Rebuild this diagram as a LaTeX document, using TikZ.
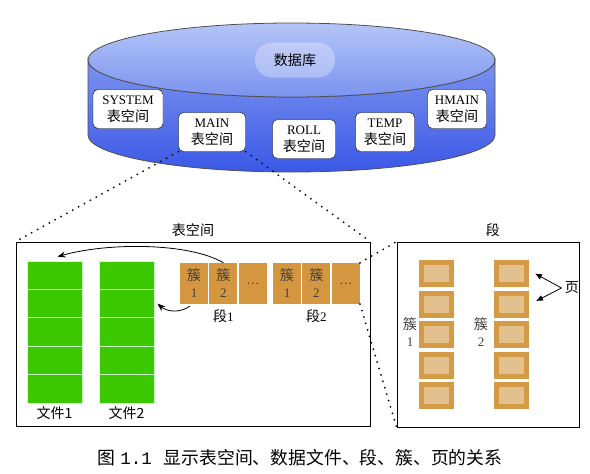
\documentclass[tikz,border=0pt]{standalone}
\usepackage{fontspec}
\setmainfont{Liberation Serif}
\setmonofont{Liberation Mono}
\newfontfamily\cjk[Scale=1.08]{Noto Sans CJK SC}
\usepackage{tikz}
\usetikzlibrary{arrows.meta,positioning,calc}
\definecolor{dbtop}{HTML}{B4C5F7}
\definecolor{dbmid}{HTML}{7C93EF}
\definecolor{dbbot}{HTML}{3A58E6}
\definecolor{rim}{HTML}{505050}
\definecolor{filegreen}{HTML}{3CC800}
\definecolor{cluster}{HTML}{D4973F}
\definecolor{pageout}{HTML}{D49A46}
\definecolor{pagein}{HTML}{E3C18F}

\tikzset{
  tsbox/.style={draw,fill=white,rounded corners=5pt,align=center,minimum height=39pt,inner sep=2pt},
  fileblk/.style={fill=filegreen,draw=green!20!white,line width=0.8pt,minimum width=55pt,minimum height=28.4pt,inner sep=0pt},
  clublk/.style={fill=cluster,text=black!75,align=center,minimum width=28pt,minimum height=41pt,inner sep=0pt},
  pageblk/.style={fill=pagein,draw=pageout,line width=5pt,minimum width=30pt,minimum height=22pt,inner sep=0pt},
  linkdots/.style={line width=2pt,line cap=round,dash pattern=on 0pt off 6.7pt},
}

\begin{document}
\begin{tikzpicture}[x=1pt,y=-1pt,every node/.style={font=\fontsize{13}{17}\selectfont}]
  \useasboundingbox (0,0) rectangle (590,474);

  % Database cylinder
  \shade[top color=dbmid,bottom color=dbbot,draw=rim,line width=0.8pt]
    (88,60) -- (88,135) arc[start angle=180,end angle=0,x radius=203.5,y radius=37]
    -- (495,60) arc[start angle=0,end angle=180,x radius=203.5,y radius=37] -- cycle;
  \shade[top color=dbtop,bottom color=dbmid,draw=rim,line width=0.8pt]
    (291.5,60) ellipse[x radius=203.5,y radius=37];
  \node[fill=white,fill opacity=0.3,text opacity=1,rounded corners=17pt,minimum width=80pt,minimum height=35pt] (db) at (295,60) {\cjk 数据库};

  \node[tsbox,minimum width=70pt] (system) at (128,109) {SYSTEM\\{\cjk 表空间}};
  \node[tsbox,minimum width=67pt] (main) at (212,132) {MAIN\\{\cjk 表空间}};
  \node[tsbox,minimum width=63pt] (roll) at (304,139) {ROLL\\{\cjk 表空间}};
  \node[tsbox,minimum width=59pt] (temp) at (385,132) {TEMP\\{\cjk 表空间}};
  \node[tsbox,minimum width=59pt] (hmain) at (457,109) {HMAIN\\{\cjk 表空间}};

  % Tablespace
  \node[draw,line width=0.8pt,minimum width=354pt,minimum height=184pt,inner sep=0pt] (tsp) at (193,334) {};
  \node[above=1.5pt of tsp] (tsptitle) {\cjk 表空间};
  \draw[linkdots] (main.south west) -- (tsp.north west);
  \draw[linkdots] (main.south east) -- (tsp.north east);

  \foreach \i in {1,...,5} {
    \node[fileblk] (fa\i) at (54.5,{246.8+28.4*\i}) {};
    \node[fileblk] (fb\i) at (126.5,{246.8+28.4*\i}) {};
  }
  \node[below=0pt of fa5] (file1) {\cjk 文件1};
  \node[below=0pt of fb5] (file2) {\cjk 文件2};

  \node[clublk] (c11) at (194,283.5) {{\cjk 簇}\\1};
  \node[clublk,right=1pt of c11] (c12) {{\cjk 簇}\\2};
  \node[clublk,right=1pt of c12] (c13) {\ldots};
  \node[clublk] (c21) at (287,283.5) {{\cjk 簇}\\1};
  \node[clublk,right=1pt of c21] (c22) {{\cjk 簇}\\2};
  \node[clublk,right=1pt of c22] (c23) {\ldots};
  \node[below=2pt of c12] (seg1) {{\cjk 段}1};
  \node[below=2pt of c22] (seg2) {{\cjk 段}2};

  \coordinate (tipa) at ($(fa1.north)+(3,-4)$);
  \coordinate (tailb) at ($(c11.south)+(-4,2)$);
  \coordinate (tipb) at ($(fb2.east)+(3,0)$);
  \draw[-{Stealth[length=8pt,width=6pt]},line width=0.8pt] (c12.north) .. controls (190,243) and (110,242) .. (tipa);
  \draw[-{Stealth[length=8pt,width=6pt]},line width=0.8pt] (tailb) .. controls (178,314) and (166,311) .. (tipb);

  % Segment
  \node[draw,line width=0.8pt,minimum width=182pt,minimum height=185pt,inner sep=0pt] (sgb) at (488,334.5) {};
  \node[above=1.5pt of sgb,xshift=5pt] (sgbtitle) {\cjk 段};
  \draw[linkdots] (c23.north east) -- (sgb.north west);
  \draw[linkdots] (c23.south east) -- (sgb.south west);

  \foreach \i in {1,...,5} {
    \node[pageblk] (pa\i) at (436.5,{242.9+30.6*\i}) {};
    \node[pageblk] (pb\i) at (511.5,{242.9+30.6*\i}) {};
  }
  \node[align=center,text=black!75] (ca) at (410,332) {{\cjk 簇}\\1};
  \node[align=center,text=black!75] (cb) at (481,332) {{\cjk 簇}\\2};

  \node (pg) at (572,288) {\cjk 页};
  \draw[-{Latex[length=7pt,width=6pt]},line width=0.8pt] (pg.west) -- ($(pb1.east)+(6,0)$);
  \draw[-{Latex[length=7pt,width=6pt]},line width=0.8pt] (pg.west) -- ($(pb2.east)+(7,-3)$);

  % Caption
  \node[font=\fontsize{16.5}{19}\selectfont] (caption) at (300,458) {{\cjk 图}\hspace{5pt}{\ttfamily\fontsize{17.5}{19}\selectfont 1.1}\hspace{12pt}{\cjk 显示表空间、数据文件、段、簇、页的关系}};
\end{tikzpicture}
\end{document}
